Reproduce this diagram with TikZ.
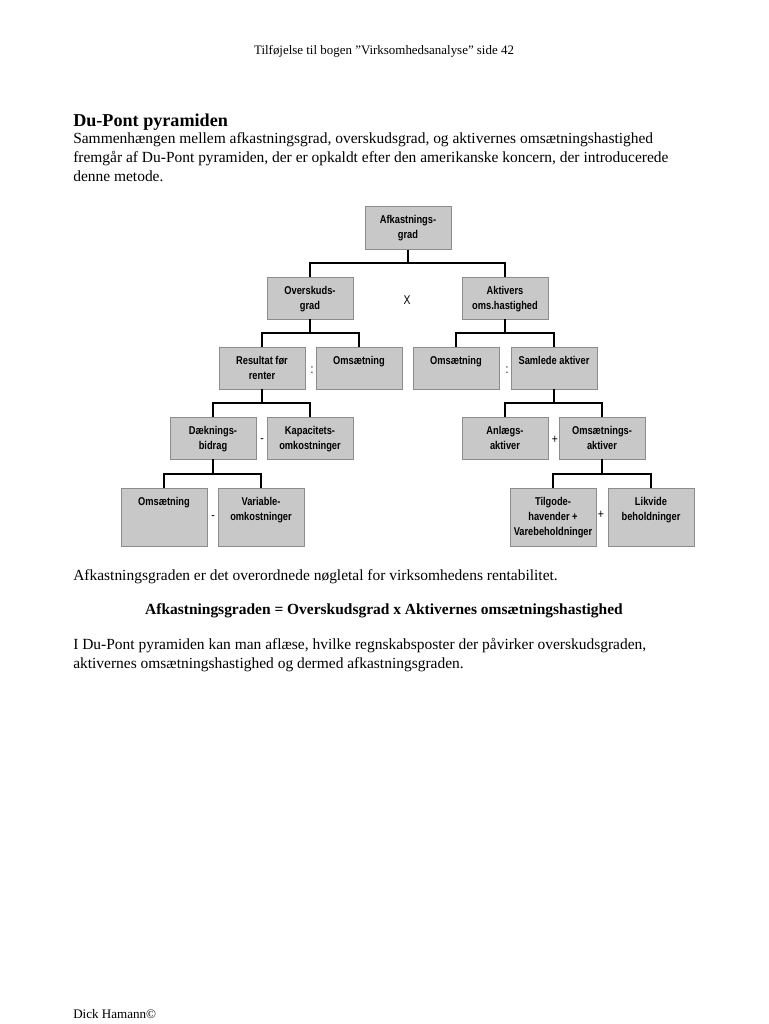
\documentclass[tikz,border=0pt]{standalone}
\usepackage{fontspec}
\setmainfont{Liberation Serif}
\newfontfamily\boxfont[FakeStretch=0.82]{Liberation Sans}
\definecolor{boxfill}{RGB}{200,200,200}
\definecolor{boxline}{RGB}{140,140,140}
\tikzset{
  box/.style={draw=boxline, fill=boxfill, line width=0.6pt, inner sep=0pt,
    font=\boxfont\bfseries\fontsize{8.5}{11.25}\selectfont,
    execute at begin node={\begin{minipage}[c][#1][t]{64.5pt}\centering\rule{0pt}{13pt}},
    execute at end node={\end{minipage}}},
  box/.default=31.5pt,
  tree/.style={draw=black, line width=0.8pt},
  operator/.style={inner sep=0pt, font=\boxfont\fontsize{9.5}{11}\selectfont},
  bodytext/.style={anchor=base west, inner sep=0pt, font=\fontsize{11.6}{14}\selectfont}
}
\begin{document}
\begin{tikzpicture}[x=0.75pt, y=-0.75pt]
\useasboundingbox (0,0) rectangle (768,1024);
\fill[white] (0,0) rectangle (768,1024);
% Tekst over pyramiden
\node[anchor=base, inner sep=0pt, font=\fontsize{9.7}{12}\selectfont] (sidehoved) at (384, 55) {Tilføjelse til bogen "Virksomhedsanalyse" side 42};
\node[anchor=base west, inner sep=0pt, font=\fontsize{13.6}{16}\selectfont\bfseries] (overskrift) at (73, 126) {Du-Pont pyramiden};
\node[bodytext] (indledningA) at (73, 143) {Sammenhængen mellem afkastningsgrad, overskudsgrad, og aktivernes omsætningshastighed};
\node[bodytext] (indledningB) at (73, 162) {fremgår af Du-Pont pyramiden, der er opkaldt efter den amerikanske koncern, der introducerede};
\node[bodytext] (indledningC) at (73, 181) {denne metode.};
% Pyramiden
\node[box=32.25pt] (afkastningsgrad) at (408, 228) {Afkastnings-\\grad};
\node[box] (overskudsgrad) at (310, 298) {Overskuds-\\grad};
\node[box] (aktiversOms) at (505, 298) {Aktivers\\oms.hastighed};
\node[operator] (opGange) at (407, 300) {X};
\node[box] (resultatFoerRenter) at (262, 368) {Resultat før\\renter};
\node[box] (omsaetningVenstre) at (359, 368) {Omsætning};
\node[box] (omsaetningHoejre) at (456, 368) {Omsætning};
\node[box] (samledeAktiver) at (554, 368) {Samlede aktiver};
\node[operator] (opDivVenstre) at (312, 370) {:};
\node[operator] (opDivHoejre) at (507, 370) {:};
\node[box] (daekningsbidrag) at (213, 438) {Dæknings-\\bidrag};
\node[box] (kapacitetsomk) at (310, 438) {Kapacitets-\\omkostninger};
\node[box] (anlaegsaktiver) at (505, 438) {Anlægs-\\aktiver};
\node[box] (omsaetningsaktiver) at (602, 438) {Omsætnings-\\aktiver};
\node[operator] (opMinusOeverst) at (262, 441) {-};
\node[operator] (opPlusOeverst) at (555, 440) {+};
\node[box=43.5pt] (omsaetningBund) at (164, 517) {Omsætning};
\node[box=43.5pt] (variableOmk) at (261, 517) {Variable-\\omkostninger};
\node[box=43.5pt] (tilgodehavender) at (553, 517) {Tilgode-\\havender +\\Varebeholdninger};
\node[box=43.5pt] (likvideBeh) at (651, 517) {Likvide\\beholdninger};
\node[operator] (opMinusBund) at (213, 518) {-};
\node[operator] (opPlusBund) at (601, 515) {+};
% Hoejder for de vandrette streger
\coordinate (barEt) at (0, 263);
\coordinate (barTo) at (0, 333);
\coordinate (barTre) at (0, 403);
\coordinate (barFire) at (0, 474);
\draw[tree] (afkastningsgrad.south) |- (overskudsgrad.north |- barEt) -- (overskudsgrad.north);
\draw[tree] (afkastningsgrad.south) |- (aktiversOms.north |- barEt) -- (aktiversOms.north);
\draw[tree] (overskudsgrad.south) |- (resultatFoerRenter.north |- barTo) -- (resultatFoerRenter.north);
\draw[tree] (overskudsgrad.south) |- (omsaetningVenstre.north |- barTo) -- (omsaetningVenstre.north);
\draw[tree] (aktiversOms.south) |- (omsaetningHoejre.north |- barTo) -- (omsaetningHoejre.north);
\draw[tree] (aktiversOms.south) |- (samledeAktiver.north |- barTo) -- (samledeAktiver.north);
\draw[tree] (resultatFoerRenter.south) |- (daekningsbidrag.north |- barTre) -- (daekningsbidrag.north);
\draw[tree] (resultatFoerRenter.south) |- (kapacitetsomk.north |- barTre) -- (kapacitetsomk.north);
\draw[tree] (samledeAktiver.south) |- (anlaegsaktiver.north |- barTre) -- (anlaegsaktiver.north);
\draw[tree] (samledeAktiver.south) |- (omsaetningsaktiver.north |- barTre) -- (omsaetningsaktiver.north);
\draw[tree] (daekningsbidrag.south) |- (omsaetningBund.north |- barFire) -- (omsaetningBund.north);
\draw[tree] (daekningsbidrag.south) |- (variableOmk.north |- barFire) -- (variableOmk.north);
\draw[tree] (omsaetningsaktiver.south) |- (tilgodehavender.north |- barFire) -- (tilgodehavender.north);
\draw[tree] (omsaetningsaktiver.south) |- (likvideBeh.north |- barFire) -- (likvideBeh.north);
% Tekst under pyramiden
\node[bodytext] (noegletal) at (73, 580) {Afkastningsgraden er det overordnede nøgletal for virksomhedens rentabilitet.};
\node[anchor=base, inner sep=0pt, font=\fontsize{11.6}{14}\selectfont\bfseries] (formel) at (384, 614) {Afkastningsgraden = Overskudsgrad x Aktivernes omsætningshastighed};
\node[bodytext] (afslutningA) at (73, 649) {I Du-Pont pyramiden kan man aflæse, hvilke regnskabsposter der påvirker overskudsgraden,};
\node[bodytext] (afslutningB) at (73, 668) {aktivernes omsætningshastighed og dermed afkastningsgraden.};
\node[anchor=base west, inner sep=0pt, font=\fontsize{9.8}{12}\selectfont] (sidefod) at (73, 1018) {Dick Hamann©};
\end{tikzpicture}
\end{document}
